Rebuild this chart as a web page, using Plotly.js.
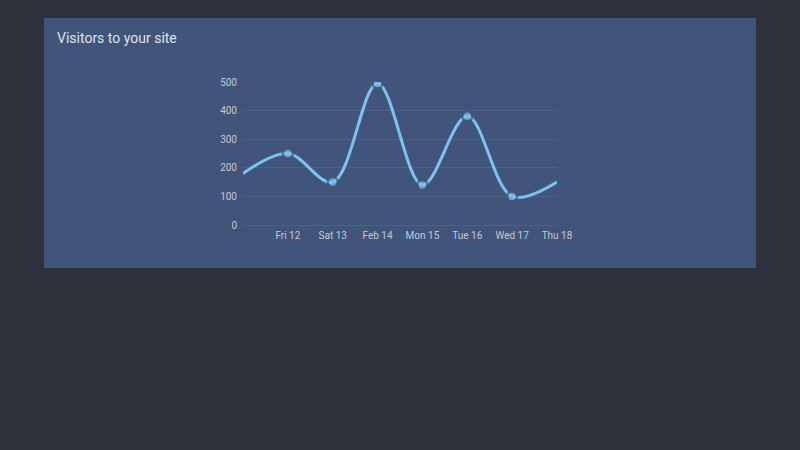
<!DOCTYPE html>
<html>
<head>
<meta charset="utf-8">
<script src="https://cdn.plot.ly/plotly-3.0.1.min.js"></script>
<style>
  html, body { margin: 0; padding: 0; background: #2e313c; }
  #chart { width: 800px; height: 450px; }
</style>
</head>
<body>
<div id="chart"></div>
<script>
const days = ["Thu 11", "Fri 12", "Sat 13", "Feb 14", "Mon 15", "Tue 16", "Wed 17", "Thu 18"];
const visitors = [180, 250, 150, 495, 140, 380, 100, 150];
const shownTicks = ["Fri 12", "Sat 13", "Feb 14", "Mon 15", "Tue 16", "Wed 17", "Thu 18"];
const yTicks = [0, 100, 200, 300, 400, 500];

const cardColor = "#41557a";
const lineColor = "#7cc2f2";
const gridColor = "rgba(255,255,255,0.07)";

// markers only on the inner points
const markerSizes = days.map((d, i) => (i === 0 || i === days.length - 1) ? 0 : 10);

// plot area in pixels, used to place the card behind it
const W = 800, H = 450;
const L = 243, R = 557, T = 82, B = 225;
const px = v => (v - L) / (R - L);
const py = v => (B - v) / (B - T);

Plotly.newPlot("chart", [{
  x: days,
  y: visitors,
  type: "scatter",
  mode: "lines+markers",
  line: { shape: "spline", smoothing: 1, color: lineColor, width: 3 },
  marker: { size: markerSizes, color: lineColor, line: { color: cardColor, width: 2.5 } },
  hoverinfo: "x+y",
}], {
  width: W,
  height: H,
  margin: { l: L, r: W - R, t: T, b: H - B },
  paper_bgcolor: "#2e313c",
  plot_bgcolor: "rgba(0,0,0,0)",
  showlegend: false,
  font: { family: "Roboto, sans-serif", color: "#c3cad8", size: 10 },
  title: {
    text: "Visitors to your site",
    font: { family: "Roboto, sans-serif", size: 14, color: "#dde3ee" },
    x: 57 / W, xanchor: "left", xref: "container",
    y: 1 - 38 / H, yanchor: "middle", yref: "container",
  },
  xaxis: {
    type: "category",
    range: [0, days.length - 1],
    tickvals: shownTicks,
    showgrid: false,
    zeroline: false,
    showline: false,
    ticks: "",
    ticklabelstandoff: 3,
    fixedrange: true,
  },
  yaxis: {
    range: [0, 500],
    tickvals: yTicks,
    gridcolor: gridColor,
    zeroline: true,
    zerolinecolor: gridColor,
    zerolinewidth: 1,
    showline: false,
    ticks: "",
    ticklabelstandoff: 5,
    fixedrange: true,
  },
  shapes: [{
    type: "rect",
    xref: "paper", yref: "paper",
    x0: px(44), x1: px(756), y0: py(268), y1: py(18),
    fillcolor: cardColor,
    line: { width: 0 },
    layer: "below",
  }],
}, { displayModeBar: false, staticPlot: true });
</script>
</body>
</html>
